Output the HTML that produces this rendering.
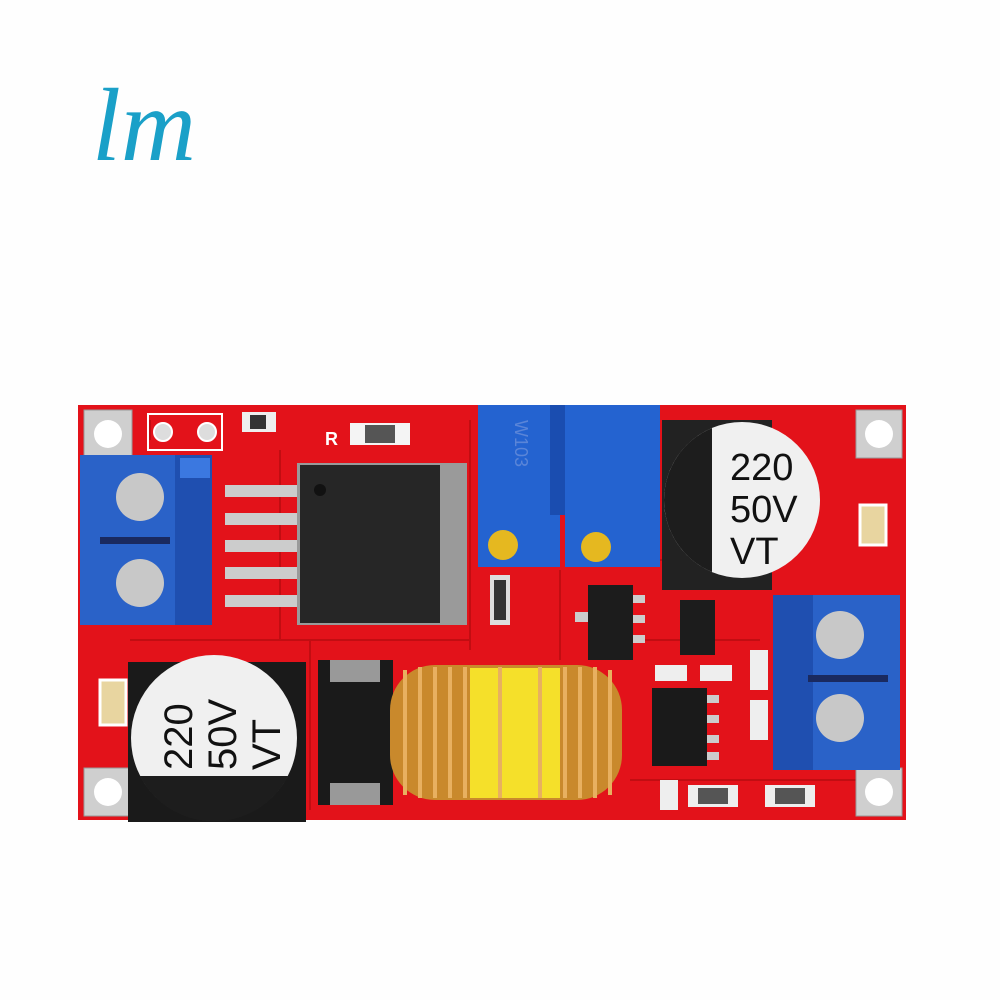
<!DOCTYPE html>
<html><head><meta charset="utf-8"><style>
html,body{margin:0;padding:0;background:#fff;width:1000px;height:1000px;overflow:hidden}
</style></head><body>
<svg width="1000" height="1000" viewBox="0 0 1000 1000" xmlns="http://www.w3.org/2000/svg" font-family="Liberation Sans, sans-serif">
<rect width="1000" height="1000" fill="#fefefe"/>
<text x="92" y="160" font-family="Liberation Serif, serif" font-style="italic" font-size="104" fill="#1aa0c8">lm</text>
<!-- board -->
<rect x="78" y="405" width="828" height="415" fill="#e3121a"/>
<g fill="none" stroke="#b30c10" stroke-width="2" opacity="0.7">
<path d="M150 420 L150 440 M280 450 L280 640 L470 640 M470 420 L470 650 M560 570 L560 660 M660 560 L760 560 M640 640 L760 640 M130 640 L310 640 L310 810 M630 780 L900 780"/>
</g>
<g fill="#cfcfcf" stroke="#999">
<rect x="84" y="410" width="48" height="48"/><rect x="856" y="410" width="46" height="48"/>
<rect x="84" y="768" width="48" height="48"/><rect x="856" y="768" width="46" height="48"/>
</g>
<g fill="#fff"><circle cx="108" cy="434" r="14"/><circle cx="879" cy="434" r="14"/><circle cx="108" cy="792" r="14"/><circle cx="879" cy="792" r="14"/></g>
<rect x="148" y="414" width="74" height="36" fill="none" stroke="#fff" stroke-width="2"/>
<g fill="#ddd" stroke="#fff" stroke-width="2"><circle cx="163" cy="432" r="9"/><circle cx="207" cy="432" r="9"/></g>
<rect x="242" y="412" width="34" height="20" fill="#eee"/><rect x="250" y="415" width="16" height="14" fill="#333"/>
<text x="325" y="445" font-size="18" fill="#fff" font-weight="bold">R</text>
<rect x="350" y="423" width="60" height="22" fill="#f4f4f4"/><rect x="365" y="425" width="30" height="18" fill="#555"/>
<!-- left terminal -->
<rect x="80" y="455" width="132" height="170" fill="#2a62c8"/>
<rect x="175" y="455" width="37" height="170" fill="#1f4fb0"/>
<rect x="180" y="458" width="30" height="20" fill="#3b78e0"/>
<circle cx="140" cy="497" r="24" fill="#c8c8c8"/><circle cx="140" cy="583" r="24" fill="#c8c8c8"/>
<rect x="100" y="537" width="70" height="7" fill="#1a2a60"/>
<g fill="#ccc"><rect x="225" y="485" width="75" height="12"/><rect x="225" y="513" width="75" height="12"/><rect x="225" y="540" width="75" height="12"/><rect x="225" y="567" width="75" height="12"/><rect x="225" y="595" width="75" height="12"/></g>
<rect x="297" y="463" width="170" height="162" fill="#9a9a9a"/>
<rect x="300" y="465" width="140" height="158" fill="#262626"/>
<circle cx="320" cy="490" r="6" fill="#111"/>
<!-- trimpots -->
<rect x="478" y="405" width="82" height="162" fill="#2463d0"/>
<rect x="565" y="405" width="95" height="162" fill="#2463d0"/>
<rect x="550" y="405" width="15" height="110" fill="#1a4db0"/>
<circle cx="503" cy="545" r="15" fill="#e5b820"/><circle cx="596" cy="547" r="15" fill="#e5b820"/>
<text transform="translate(515,420) rotate(90)" font-size="18" fill="#5a85d8">W103</text>
<!-- top cap -->
<rect x="662" y="420" width="110" height="170" fill="#222"/>
<circle cx="742" cy="500" r="78" fill="#f0f0f0"/>
<path d="M712 428 A78 78 0 0 0 712 572 Z" fill="#1d1d1d"/>
<text x="730" y="480" font-size="38" fill="#111">220</text>
<text x="730" y="522" font-size="38" fill="#111">50V</text>
<text x="730" y="564" font-size="38" fill="#111">VT</text>
<rect x="860" y="505" width="26" height="40" fill="#e8d5a0" stroke="#fff" stroke-width="3"/>
<rect x="588" y="585" width="45" height="75" fill="#1c1c1c"/>
<g fill="#ccc"><rect x="633" y="595" width="12" height="8"/><rect x="633" y="615" width="12" height="8"/><rect x="633" y="635" width="12" height="8"/><rect x="575" y="612" width="13" height="10"/></g>
<rect x="680" y="600" width="35" height="55" fill="#1c1c1c"/>
<rect x="490" y="575" width="20" height="50" fill="#ddd"/><rect x="494" y="580" width="12" height="40" fill="#333"/>
<!-- right terminal -->
<rect x="773" y="595" width="127" height="175" fill="#2a62c8"/>
<rect x="773" y="595" width="40" height="175" fill="#1f4fb0"/>
<circle cx="840" cy="635" r="24" fill="#c8c8c8"/><circle cx="840" cy="718" r="24" fill="#c8c8c8"/>
<rect x="808" y="675" width="80" height="7" fill="#1a2a60"/>
<rect x="750" y="650" width="18" height="40" fill="#eee"/><rect x="750" y="700" width="18" height="40" fill="#eee"/>
<!-- bottom left cap -->
<rect x="128" y="662" width="178" height="160" fill="#1a1a1a"/>
<circle cx="214" cy="738" r="83" fill="#f0f0f0"/>
<path d="M140 776 A83 83 0 0 0 288 776 Z" fill="#1d1d1d"/>
<text transform="translate(192,770) rotate(-90)" font-size="40" fill="#111">220</text>
<text transform="translate(236,770) rotate(-90)" font-size="40" fill="#111">50V</text>
<text transform="translate(280,770) rotate(-90)" font-size="40" fill="#111">VT</text>
<rect x="100" y="680" width="26" height="45" fill="#e8d5a0" stroke="#fff" stroke-width="3"/>
<!-- diode -->
<rect x="318" y="660" width="75" height="145" fill="#1a1a1a"/>
<rect x="330" y="660" width="50" height="22" fill="#999"/><rect x="330" y="783" width="50" height="22" fill="#999"/>
<!-- inductor -->
<rect x="390" y="665" width="232" height="135" rx="45" fill="#c9892c"/>
<rect x="470" y="668" width="90" height="130" fill="#f5e02a"/>
<g stroke="#e8b060" stroke-width="4">
<line x1="405" y1="670" x2="405" y2="795"/><line x1="420" y1="667" x2="420" y2="798"/><line x1="435" y1="667" x2="435" y2="798"/><line x1="450" y1="667" x2="450" y2="798"/><line x1="465" y1="667" x2="465" y2="798"/><line x1="500" y1="667" x2="500" y2="798"/><line x1="540" y1="667" x2="540" y2="798"/><line x1="565" y1="667" x2="565" y2="798"/><line x1="580" y1="667" x2="580" y2="798"/><line x1="595" y1="667" x2="595" y2="798"/><line x1="610" y1="670" x2="610" y2="795"/>
</g>
<rect x="652" y="688" width="55" height="78" fill="#1a1a1a"/>
<g fill="#ccc"><rect x="707" y="695" width="12" height="8"/><rect x="707" y="715" width="12" height="8"/><rect x="707" y="735" width="12" height="8"/><rect x="707" y="752" width="12" height="8"/></g>
<g fill="#eee"><rect x="655" y="665" width="32" height="16"/><rect x="700" y="665" width="32" height="16"/><rect x="688" y="785" width="50" height="22"/><rect x="765" y="785" width="50" height="22"/><rect x="660" y="780" width="18" height="30"/></g>
<g fill="#555"><rect x="698" y="788" width="30" height="16"/><rect x="775" y="788" width="30" height="16"/></g>
</svg>
</body></html>
